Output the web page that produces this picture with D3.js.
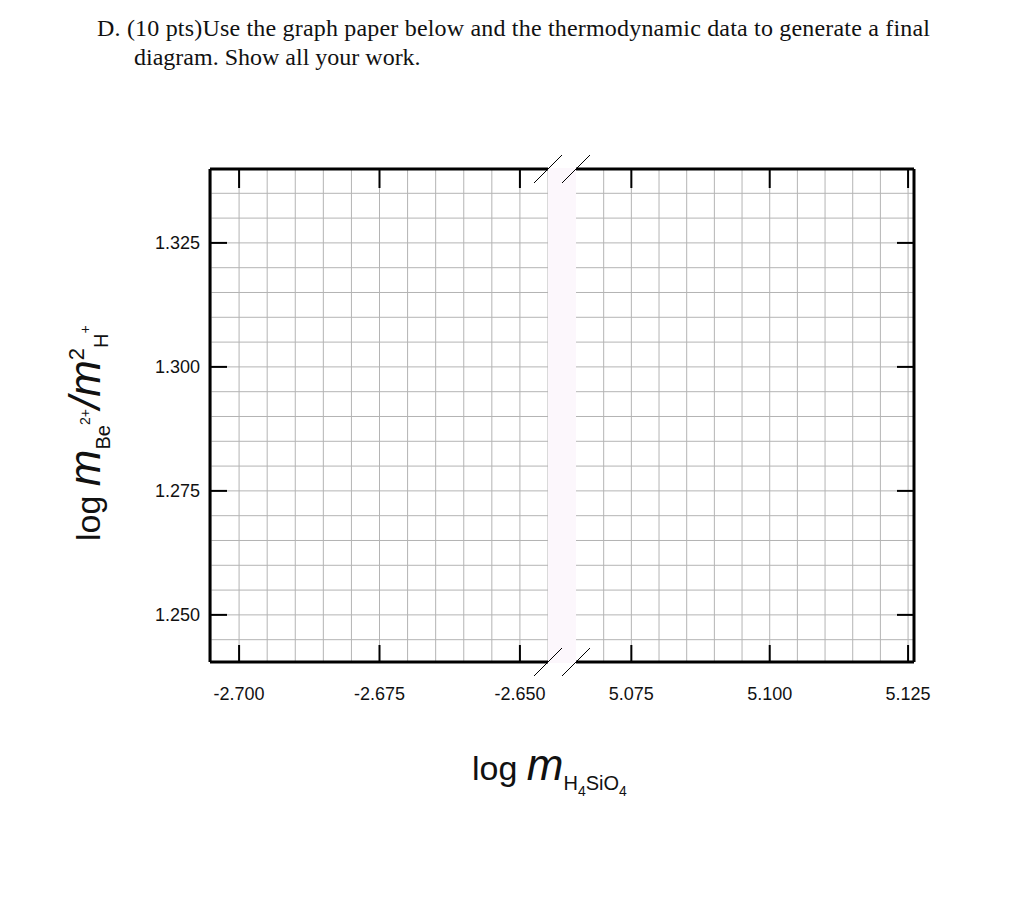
<!DOCTYPE html>
<html><head><meta charset="utf-8">
<script src="https://cdn.jsdelivr.net/npm/d3@7"></script>
<style>body{margin:0;background:#fff}</style>
</head><body>
<svg width="1024" height="900"></svg>
<script>
// axis values
var leftTicks = [-2.700, -2.675, -2.650],
	rightTicks = [5.075, 5.100, 5.125],
	yTicks = [1.250, 1.275, 1.300, 1.325],
	leftDomain = [-2.70518, -2.645],
	rightDomain = [5.065, 5.12607],
	yDomain = [1.2405, 1.3399],
	minorStep = 0.005;

var svg = d3.select("svg"),
	plotTop = 169, plotBottom = 662, plotLeft = 210, plotRight = 914,
	gapL = 548, gapR = 576;

var xL = d3.scaleLinear().domain(leftDomain).range([plotLeft, gapL]),
	xR = d3.scaleLinear().domain(rightDomain).range([gapR, plotRight]),
	y = d3.scaleLinear().domain(yDomain).range([plotBottom, plotTop]);

// title
var title = svg.append("text").attr("font-family", "Liberation Serif, Times New Roman, serif").attr("font-size", 24).attr("fill", "#111");
title.append("tspan").attr("x", 97).attr("y", 36).attr("textLength", 833).text("D. (10 pts)Use the graph paper below and the thermodynamic data to generate a final");
title.append("tspan").attr("x", 134).attr("y", 65).text("diagram. Show all your work.");

function steps(d) {
	var out = [];
	for (var v = Math.ceil(d[0] / minorStep) * minorStep; v <= d[1] + 1e-9; v += minorStep) out.push(+v.toFixed(4));
	return out;
}

var grid = svg.append("g").attr("stroke", "#b4b4b4").attr("stroke-width", 1);
steps(leftDomain).forEach(function(v) {
	grid.append("line").attr("x1", xL(v)).attr("x2", xL(v)).attr("y1", plotTop).attr("y2", plotBottom);
});
steps(rightDomain).forEach(function(v) {
	grid.append("line").attr("x1", xR(v)).attr("x2", xR(v)).attr("y1", plotTop).attr("y2", plotBottom);
});
steps(yDomain).forEach(function(v) {
	grid.append("line").attr("x1", plotLeft).attr("x2", gapL).attr("y1", y(v)).attr("y2", y(v));
	grid.append("line").attr("x1", gapR).attr("x2", plotRight).attr("y1", y(v)).attr("y2", y(v));
});

// break band
svg.append("rect").attr("x", gapL).attr("y", plotTop - 1).attr("width", gapR - gapL).attr("height", plotBottom - plotTop + 2).attr("fill", "#fcf7fc");

// frame
var frame = svg.append("g").attr("stroke", "#000").attr("stroke-width", 3).attr("fill", "none");
frame.append("line").attr("x1", plotLeft).attr("x2", plotLeft).attr("y1", plotTop).attr("y2", plotBottom);
frame.append("line").attr("x1", plotRight).attr("x2", plotRight).attr("y1", plotTop).attr("y2", plotBottom);
frame.append("line").attr("x1", plotLeft).attr("x2", gapL).attr("y1", plotTop).attr("y2", plotTop);
frame.append("line").attr("x1", gapR).attr("x2", plotRight).attr("y1", plotTop).attr("y2", plotTop);
frame.append("line").attr("x1", plotLeft).attr("x2", gapL).attr("y1", plotBottom).attr("y2", plotBottom);
frame.append("line").attr("x1", gapR).attr("x2", plotRight).attr("y1", plotBottom).attr("y2", plotBottom);

// break slashes
var br = svg.append("g").attr("stroke", "#000").attr("stroke-width", 1);
[plotTop, plotBottom].forEach(function(yy) {
	br.append("line").attr("x1", gapL - 14).attr("y1", yy + 14).attr("x2", gapL + 14).attr("y2", yy - 14);
	br.append("line").attr("x1", gapR - 14).attr("y1", yy + 14).attr("x2", gapR + 14).attr("y2", yy - 14);
});

// major ticks (inward)
var tk = svg.append("g").attr("stroke", "#000").attr("stroke-width", 2);
leftTicks.forEach(function(v) {
	tk.append("line").attr("x1", xL(v)).attr("x2", xL(v)).attr("y1", plotTop).attr("y2", plotTop + 19);
	tk.append("line").attr("x1", xL(v)).attr("x2", xL(v)).attr("y1", plotBottom).attr("y2", plotBottom - 17);
});
rightTicks.forEach(function(v) {
	tk.append("line").attr("x1", xR(v)).attr("x2", xR(v)).attr("y1", plotTop).attr("y2", plotTop + 19);
	tk.append("line").attr("x1", xR(v)).attr("x2", xR(v)).attr("y1", plotBottom).attr("y2", plotBottom - 17);
});
yTicks.forEach(function(v) {
	tk.append("line").attr("x1", plotLeft).attr("x2", plotLeft + 17).attr("y1", y(v)).attr("y2", y(v));
	tk.append("line").attr("x1", plotRight).attr("x2", plotRight - 17).attr("y1", y(v)).attr("y2", y(v));
});

// tick labels
var lab = svg.append("g").attr("font-family", "Liberation Sans, Arial, sans-serif").attr("font-size", 18).attr("fill", "#111");
leftTicks.forEach(function(v) {
	lab.append("text").attr("x", xL(v)).attr("y", 700).attr("text-anchor", "middle").text(d3.format(".3f")(v).replace("−", "-"));
});
rightTicks.forEach(function(v) {
	lab.append("text").attr("x", xR(v)).attr("y", 700).attr("text-anchor", "middle").text(d3.format(".3f")(v));
});
yTicks.forEach(function(v) {
	lab.append("text").attr("x", 200).attr("y", y(v) + 6).attr("text-anchor", "end").text(d3.format(".3f")(v));
});

// x axis title
var xt = svg.append("text").attr("x", 472).attr("y", 780).attr("font-family", "Liberation Sans, Arial, sans-serif").attr("font-size", 34).attr("fill", "#111");
xt.append("tspan").text("log ");
xt.append("tspan").attr("font-size", 44).attr("font-style", "italic").text("m");
xt.append("tspan").attr("font-size", 20).attr("dy", 10).text("H");
xt.append("tspan").attr("font-size", 14).attr("dy", 6).text("4");
xt.append("tspan").attr("font-size", 20).attr("dy", -6).text("SiO");
xt.append("tspan").attr("font-size", 14).attr("dy", 6).text("4");

// y axis title
var yt = svg.append("text").attr("transform", "translate(100,541) rotate(-90)").attr("font-family", "Liberation Sans, Arial, sans-serif").attr("font-size", 34).attr("fill", "#111");
yt.append("tspan").text("log ");
yt.append("tspan").attr("font-size", 44).attr("font-style", "italic").text("m");
yt.append("tspan").attr("font-size", 20).attr("dy", 10).text("Be");
yt.append("tspan").attr("font-size", 14).attr("dy", -20).text("2+");
yt.append("tspan").attr("font-size", 44).attr("font-style", "italic").attr("dy", 10).text("/m");
yt.append("tspan").attr("font-size", 22).attr("dy", -16).text("2");
yt.append("tspan").attr("font-size", 20).attr("dy", 24).text("H");
yt.append("tspan").attr("font-size", 14).attr("dy", -18).text("+");
</script>
</body></html>
